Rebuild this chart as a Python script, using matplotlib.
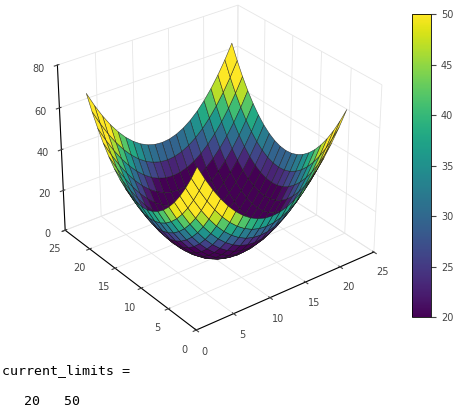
import numpy as np
import matplotlib
matplotlib.use("Agg")
import matplotlib.pyplot as plt
from matplotlib import cm, colors

coords = np.linspace(-6, 6, 21)
clim = [20, 50]
zlim_axis = [0, 80]

X, Y = np.meshgrid(coords, coords)
Z = X**2 + Y**2
idx = np.arange(1, len(coords) + 1)
I, J = np.meshgrid(idx, idx)

fig = plt.figure(figsize=(4.74, 4.12), dpi=100)
ax = fig.add_axes([0.03, 0.17, 0.84, 0.86], projection='3d')
ax.set_box_aspect((1, 1, 0.85), zoom=1.02)
norm = colors.Normalize(vmin=clim[0], vmax=clim[1])
fc = cm.viridis(norm(Z))
ax.plot_surface(I, J, Z, facecolors=fc, edgecolor=(0.1, 0.1, 0.1, 0.8),
                linewidth=0.4, shade=False, rstride=1, cstride=1)
ax.set_xlim(0, 25); ax.set_ylim(0, 25); ax.set_zlim(*zlim_axis)
ax.set_xticks([0, 5, 10, 15, 20, 25]); ax.set_yticks([0, 5, 10, 15, 20, 25])
ax.set_zticks([0, 20, 40, 60, 80])
ax.view_init(elev=30, azim=-127.5)
for a in (ax.xaxis, ax.yaxis, ax.zaxis):
    a.set_pane_color((1, 1, 1, 0))
    a._axinfo['grid']['color'] = (0.9, 0.9, 0.9, 1)
    a._axinfo['grid']['linewidth'] = 0.6
ax.tick_params(labelsize=7, colors='#444444', pad=0)

cax = fig.add_axes([0.87, 0.23, 0.04, 0.735])
sm = cm.ScalarMappable(norm=norm, cmap='viridis')
cb = fig.colorbar(sm, cax=cax)
cb.set_ticks([20, 25, 30, 35, 40, 45, 50])
cb.ax.tick_params(labelsize=7, colors='#444444')
cb.outline.set_linewidth(0.6)

fig.text(0.005, 0.10, "current_limits =", family='DejaVu Sans Mono', fontsize=9.5, va='center')
fig.text(0.05, 0.025, "20   50", family='DejaVu Sans Mono', fontsize=9.5, va='center')
fig.savefig("out.png", dpi=100, facecolor='white')
